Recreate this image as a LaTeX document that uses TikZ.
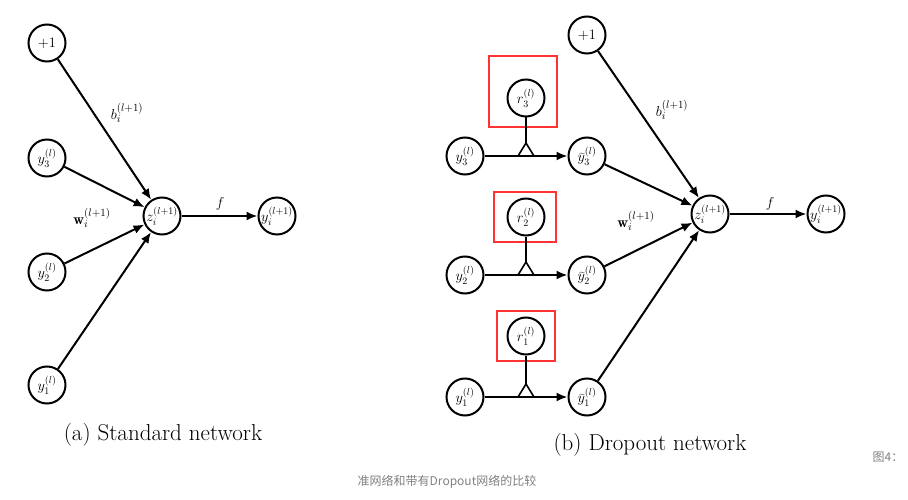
\documentclass[tikz,border=0pt]{standalone}
\usepackage{fontspec}
\newfontfamily\cjk{Noto Sans CJK SC}
\usetikzlibrary{arrows.meta}
\begin{document}
\begin{tikzpicture}[x=1pt,y=-1pt,
  unit/.style={draw,circle,line width=2pt,minimum size=37pt,inner sep=0pt,font=\fontsize{14}{16}\selectfont},
  conn/.style={line width=2pt,-{Latex[length=11pt,width=9pt]}},
  lab/.style={font=\fontsize{15}{17}\selectfont},
  mask/.style={draw=red!80,line width=2pt}]
\useasboundingbox (0,0) rectangle (908,500);
% (a) standard network
\node[unit] (a1) at (47,43) {$+1$};
\node[unit] (ay3) at (47,158) {$y_3^{(l)}$};
\node[unit] (ay2) at (47,272) {$y_2^{(l)}$};
\node[unit] (ay1) at (47,385) {$y_1^{(l)}$};
\node[unit] (az) at (162,216) {$z_i^{(l+1)}$};
\node[unit] (ayo) at (277,216) {$y_i^{(l+1)}$};
\draw[conn] (a1) -- (az);
\draw[conn] (ay3) -- (az);
\draw[conn] (ay2) -- (az);
\draw[conn] (ay1) -- (az);
\draw[conn] (az) -- (ayo);
\node[lab] at (127,113) {$b_i^{(l+1)}$};
\node[lab] at (92,218) {$\mathbf{w}_i^{(l+1)}$};
\node[lab] at (220,204) {$f$};
\node[font=\fontsize{23}{26}\selectfont] (capa) at (163,435) {(a) Standard network};
% (b) dropout network
\node[unit] (b1) at (587,35) {$+1$};
\node[unit] (bz) at (710,214) {$z_i^{(l+1)}$};
\node[unit] (byo) at (826,214) {$y_i^{(l+1)}$};
\foreach \k/\yy/\ry/\bx/\by/\bX/\bY in {3/156/98/489/56/557/127, 2/275/217/494/192/556/242, 1/397/336/497/311/555/361}{
  \pgfmathsetmacro\ty{\yy-13}
  \node[unit] (by\k) at (465,\yy) {$y_\k^{(l)}$};
  \node[unit] (bt\k) at (587,\yy) {$\widetilde{y}_\k^{(l)}$};
  \node[unit] (br\k) at (526,\ry) {$r_\k^{(l)}$};
  \draw[mask] (\bx,\by) rectangle (\bX,\bY);
  \coordinate (tip\k) at (526,\ty);
  \draw[line width=2pt] (br\k.south) -- (tip\k);
  \draw[line width=1.6pt,line join=miter] (tip\k) -- (518,\yy) -- (534,\yy) -- cycle;
  \draw[conn] (by\k) -- (bt\k);
  \draw[conn] (bt\k) -- (bz);
}
\draw[conn] (b1) -- (bz);
\draw[conn] (bz) -- (byo);
\node[lab] at (672,110) {$b_i^{(l+1)}$};
\node[lab] at (636,221) {$\mathbf{w}_i^{(l+1)}$};
\node[lab] at (770,204) {$f$};
\node[font=\fontsize{23}{26}\selectfont] (capb) at (650,445) {(b) Dropout network};
\node[font=\cjk\fontsize{12}{14}\selectfont,text=gray] (fig) at (888,457) {图4：};
\node[font=\cjk\fontsize{12}{14}\selectfont,text=gray] (cap) at (447,482) {准网络和带有Dropout网络的比较};
\end{tikzpicture}
\end{document}
